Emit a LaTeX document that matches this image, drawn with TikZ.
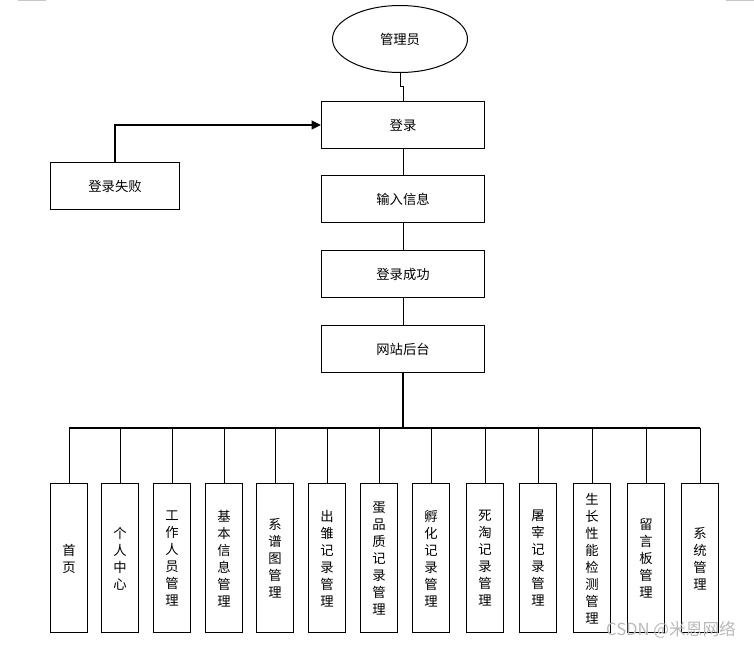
\documentclass[tikz,border=0pt]{standalone}
\usepackage{fontspec}
\setmainfont{Noto Sans CJK SC}
\usetikzlibrary{shapes.geometric,arrows.meta}

\tikzset{
  stage/.style={draw, line width=0.75pt, minimum width=122.25pt, minimum height=35.25pt, inner sep=0pt, font=\fontsize{10}{12}\selectfont},
  module/.style={draw, line width=0.75pt, minimum width=27.75pt, minimum height=111.75pt, inner sep=0pt, align=center, font=\fontsize{10}{12.75}\selectfont},
  link/.style={line width=0.75pt},
}

\begin{document}
\begin{tikzpicture}[x=0.75pt, y=-0.75pt]
  \useasboundingbox (0,0) rectangle (754,648);

  % Page corner marks
  \draw[gray!45, line width=0.75pt] (18,1) -- (45,1) -- (45,0);
  \draw[gray!45, line width=0.75pt] (754,1) -- (726,1) -- (726,0);

  % Login flow
  \node[draw, ellipse, line width=0.75pt, minimum width=101.25pt, minimum height=50.25pt, inner sep=0pt, font=\fontsize{10}{12}\selectfont] (admin) at (400,39) {管理员};
  \node[stage] (login) at (403,125) {登录};        % Login
  \node[stage, minimum width=96.75pt] (fail) at (115,186) {登录失败};  % Failed login
  \node[stage] (input) at (403,199) {输入信息};    % Enter info
  \node[stage] (success) at (403,274) {登录成功};  % Login ok
  \node[stage] (backend) at (403,349) {网站后台};  % Back end

  \draw[link] (admin.south) -- ++(0,14) -| (login.north);
  \draw[line width=1.1pt, -{Triangle[length=7pt, width=6.5pt]}] (fail.north) |- (login.west);
  \draw[link] (login) -- (input);
  \draw[link] (input) -- (success);
  \draw[link] (success) -- (backend);

  % Module boxes
  \coordinate (bus) at (403,428);
  \foreach \i/\x/\txt in {1/69/{首\\页}, 2/120/{个\\人\\中\\心}, 3/172/{工\\作\\人\\员\\管\\理},
      4/224/{基\\本\\信\\息\\管\\理}, 5/275/{系\\谱\\图\\管\\理}, 6/327/{出\\雏\\记\\录\\管\\理},
      7/379/{蛋\\品\\质\\记\\录\\管\\理}, 8/431/{孵\\化\\记\\录\\管\\理}, 9/485/{死\\淘\\记\\录\\管\\理},
      10/538/{屠\\宰\\记\\录\\管\\理}, 11/592/{生\\长\\性\\能\\检\\测\\管\\理}, 12/646/{留\\言\\板\\管\\理},
      13/700/{系\\统\\管\\理}} {
    \node[module] (m\i) at (\x,558.5) {\txt};
    \draw[link] (m\i.north) -- (m\i.north |- bus);
  }

  % Trunk and bus
  \draw[line width=1.3pt] (backend.south) -- (bus);
  \draw[line width=1pt] (m1.north |- bus) -- (m13.north |- bus);

  % Watermark
  \node[text=gray!55, font=\fontsize{12.5}{14}\selectfont, inner sep=0pt] (mark) at (671,630) {CSDN @米恩网络};
\end{tikzpicture}
\end{document}
